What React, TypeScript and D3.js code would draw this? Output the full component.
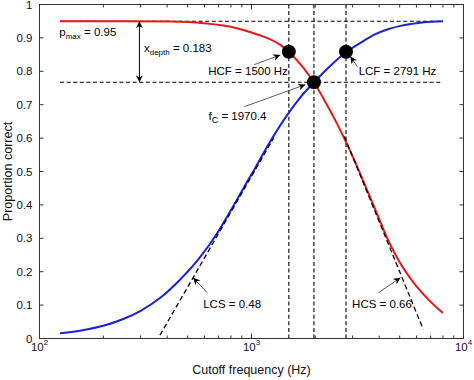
import React from 'react';
import * as d3 from 'd3';

// ---- data ----
const redFreq = [125, 250, 413, 594, 854, 1000, 1140, 1367, 1500, 1750, 1970, 2200, 2500, 2791, 3100, 3400, 3900, 4400, 5000, 5800, 6800, 8000];
const redProp = [0.950, 0.950, 0.949, 0.944, 0.929, 0.916, 0.904, 0.879, 0.858, 0.812, 0.767, 0.715, 0.650, 0.588, 0.525, 0.465, 0.375, 0.296, 0.228, 0.168, 0.118, 0.076];

const blueFreq = [125, 160, 200, 250, 300, 370, 460, 570, 690, 820, 960, 1040, 1200, 1470, 1700, 1970, 2350, 2791, 3400, 3772, 4400, 5041, 5700, 6494, 8000];
const blueProp = [0.016, 0.025, 0.038, 0.059, 0.083, 0.121, 0.176, 0.242, 0.316, 0.396, 0.472, 0.510, 0.580, 0.668, 0.722, 0.767, 0.816, 0.857, 0.892, 0.909, 0.926, 0.936, 0.942, 0.947, 0.950];

const lcsFreq = [370, 1270];
const lcsProp = [0.01, 0.60];
const hcsFreq = [2742, 6451];
const hcsProp = [0.605, 0.028];

const pMax = 0.95;
const pCross = 0.767;
const pHalf = 0.8585;
const fLow = 125;
const fHigh = 8000;
const hcf = 1500;
const fc = 1970.4;
const lcf = 2791;
const fDepth = 296;

const xMajor = [100, 1000, 10000];
const xMajorExp = ['2', '3', '4'];
const xMinor = [200, 300, 400, 500, 600, 700, 800, 900, 2000, 3000, 4000, 5000, 6000, 7000, 8000, 9000];
const yTicks = [0, 0.1, 0.2, 0.3, 0.4, 0.5, 0.6, 0.7, 0.8, 0.9, 1];
const yTickLabels = ['0', '0.1', '0.2', '0.3', '0.4', '0.5', '0.6', '0.7', '0.8', '0.9', '1'];

const FONT = '"Liberation Sans", Arial, Helvetica, sans-serif';

export default function App() {
  const W = 474, H = 380;
  const x = d3.scaleLog().domain([100, 10000]).range([39.5, 463.5]);
  const y = d3.scaleLinear().domain([0, 1]).range([338.5, 4.5]);
  const [x0, x1] = x.range();
  const [y0, y1] = y.range();

  const line = d3.line<[number, number]>().x(d => x(d[0])).y(d => y(d[1])).curve(d3.curveMonotoneX);
  const redPts = redFreq.map((f, i) => [f, redProp[i]] as [number, number]);
  const bluePts = blueFreq.map((f, i) => [f, blueProp[i]] as [number, number]);
  const straight = d3.line<[number, number]>().x(d => x(d[0])).y(d => y(d[1]));
  const lcsPts = lcsFreq.map((f, i) => [f, lcsProp[i]] as [number, number]);
  const hcsPts = hcsFreq.map((f, i) => [f, hcsProp[i]] as [number, number]);

  const dash = '4,2.6';
  const fs = 11.5;
  const labelFs = 12.5;
  const sub = 8;

  // annotation arrows in data coordinates: tail -> head
  const arrows: [number, number, number, number][] = [
    [1030, 0.820, 1367, 0.8487],
    [3158, 0.814, 2927, 0.8442],
    [924, 0.694, 1794, 0.760],
    [618, 0.137, 531, 0.182],
    [3968, 0.137, 5041, 0.182],
  ];

  return (
    <svg width={W} height={H} style={{ position: 'absolute', left: 0, top: 0, background: '#fff' }} fontFamily={FONT}>
      <defs>
        <marker id="ah" viewBox="0 0 10 10" refX="10" refY="5" markerWidth="8" markerHeight="7" markerUnits="userSpaceOnUse" orient="auto-start-reverse">
          <path d="M0,0 L10,5 L0,10 L3,5 z" fill="#000" />
        </marker>
      </defs>
      <rect x={0} y={0} width={W} height={H} fill="#fff" />

      {/* reference dashed lines */}
      <line x1={x(fLow)} x2={x(fHigh)} y1={y(pMax)} y2={y(pMax)} stroke="#000" strokeWidth={1.1} strokeDasharray={dash} />
      <line x1={x(fLow)} x2={x(fHigh)} y1={y(pCross)} y2={y(pCross)} stroke="#000" strokeWidth={1.1} strokeDasharray={dash} />
      {[hcf, fc, lcf].map((f, i) => (
        <line key={i} x1={x(f)} x2={x(f)} y1={y1} y2={y0} stroke="#000" strokeWidth={1.1} strokeDasharray={dash} />
      ))}

      {/* curves */}
      <path d={line(bluePts) || ''} fill="none" stroke="#1a22d8" strokeWidth={2} />
      <path d={line(redPts) || ''} fill="none" stroke="#e81818" strokeWidth={2} />

      {/* slope tangents */}
      <path d={straight(lcsPts) || ''} fill="none" stroke="#000" strokeWidth={1.3} strokeDasharray="5,3" />
      <path d={straight(hcsPts) || ''} fill="none" stroke="#000" strokeWidth={1.3} strokeDasharray="5,3" />

      {/* key points */}
      <circle cx={x(hcf)} cy={y(pHalf)} r={7} fill="#000" />
      <circle cx={x(lcf)} cy={y(pHalf)} r={7} fill="#000" />
      <circle cx={x(fc)} cy={y(pCross)} r={7} fill="#000" />

      {/* depth double arrow */}
      <line x1={x(fDepth)} x2={x(fDepth)} y1={y(pMax)} y2={y(pCross)} stroke="#000" strokeWidth={1} markerStart="url(#ah)" markerEnd="url(#ah)" />

      {/* annotation arrows */}
      {arrows.map((a, i) => (
        <line key={i} x1={x(a[0])} y1={y(a[1])} x2={x(a[2])} y2={y(a[3])} stroke="#333" strokeWidth={0.8} markerEnd="url(#ah)" />
      ))}

      {/* annotation texts */}
      <g fontSize={fs} fill="#000">
        <text x={x(124)} y={y(0.905)}>p<tspan fontSize={sub} dy={3}>max</tspan><tspan dy={-3}> = 0.95</tspan></text>
        <text x={x(311)} y={y(0.857)}>x<tspan fontSize={sub} dy={3}>depth</tspan><tspan dy={-3}> = 0.183</tspan></text>
        <text x={x(1500) - 1} y={y(0.79)} textAnchor="end">HCF = 1500 Hz</text>
        <text x={x(3203)} y={y(0.79)}>LCF = 2791 Hz</text>
        <text x={x(627)} y={y(0.655)}>f<tspan fontSize={sub + 1} dy={3}>C</tspan><tspan dy={-3}> = 1970.4</tspan></text>
        <text x={x(592)} y={y(0.092)}>LCS = 0.48</text>
        <text x={x(2982)} y={y(0.092)}>HCS = 0.66</text>
      </g>

      {/* axes box */}
      <rect x={x0} y={y1} width={x1 - x0} height={y0 - y1} fill="none" stroke="#333" strokeWidth={1} />
      {yTicks.map((t, i) => (
        <g key={i}>
          <line x1={x0} x2={x0 + 4} y1={y(t)} y2={y(t)} stroke="#333" />
          <line x1={x1} x2={x1 - 4} y1={y(t)} y2={y(t)} stroke="#333" />
          <text x={x0 - 7} y={y(t) + 4} textAnchor="end" fontSize={fs} fill="#111">{yTickLabels[i]}</text>
        </g>
      ))}
      {xMajor.map((t, i) => (
        <g key={i}>
          <line x1={x(t)} x2={x(t)} y1={y0} y2={y0 - 5} stroke="#333" />
          <line x1={x(t)} x2={x(t)} y1={y1} y2={y1 + 5} stroke="#333" />
          <text x={x(t)} y={y0 + 12} textAnchor="middle" fontSize={fs} fill="#111">10<tspan fontSize={sub} dy={-6}>{xMajorExp[i]}</tspan></text>
        </g>
      ))}
      {xMinor.map((t, i) => (
        <g key={i}>
          <line x1={x(t)} x2={x(t)} y1={y0} y2={y0 - 3} stroke="#333" />
          <line x1={x(t)} x2={x(t)} y1={y1} y2={y1 + 3} stroke="#333" />
        </g>
      ))}
      <text x={(x0 + x1) / 2} y={374} textAnchor="middle" fontSize={labelFs} fill="#111">Cutoff frequency (Hz)</text>
      <text transform={`translate(12,${(y0 + y1) / 2}) rotate(-90)`} textAnchor="middle" fontSize={labelFs} fill="#111">Proportion correct</text>
    </svg>
  );
}
